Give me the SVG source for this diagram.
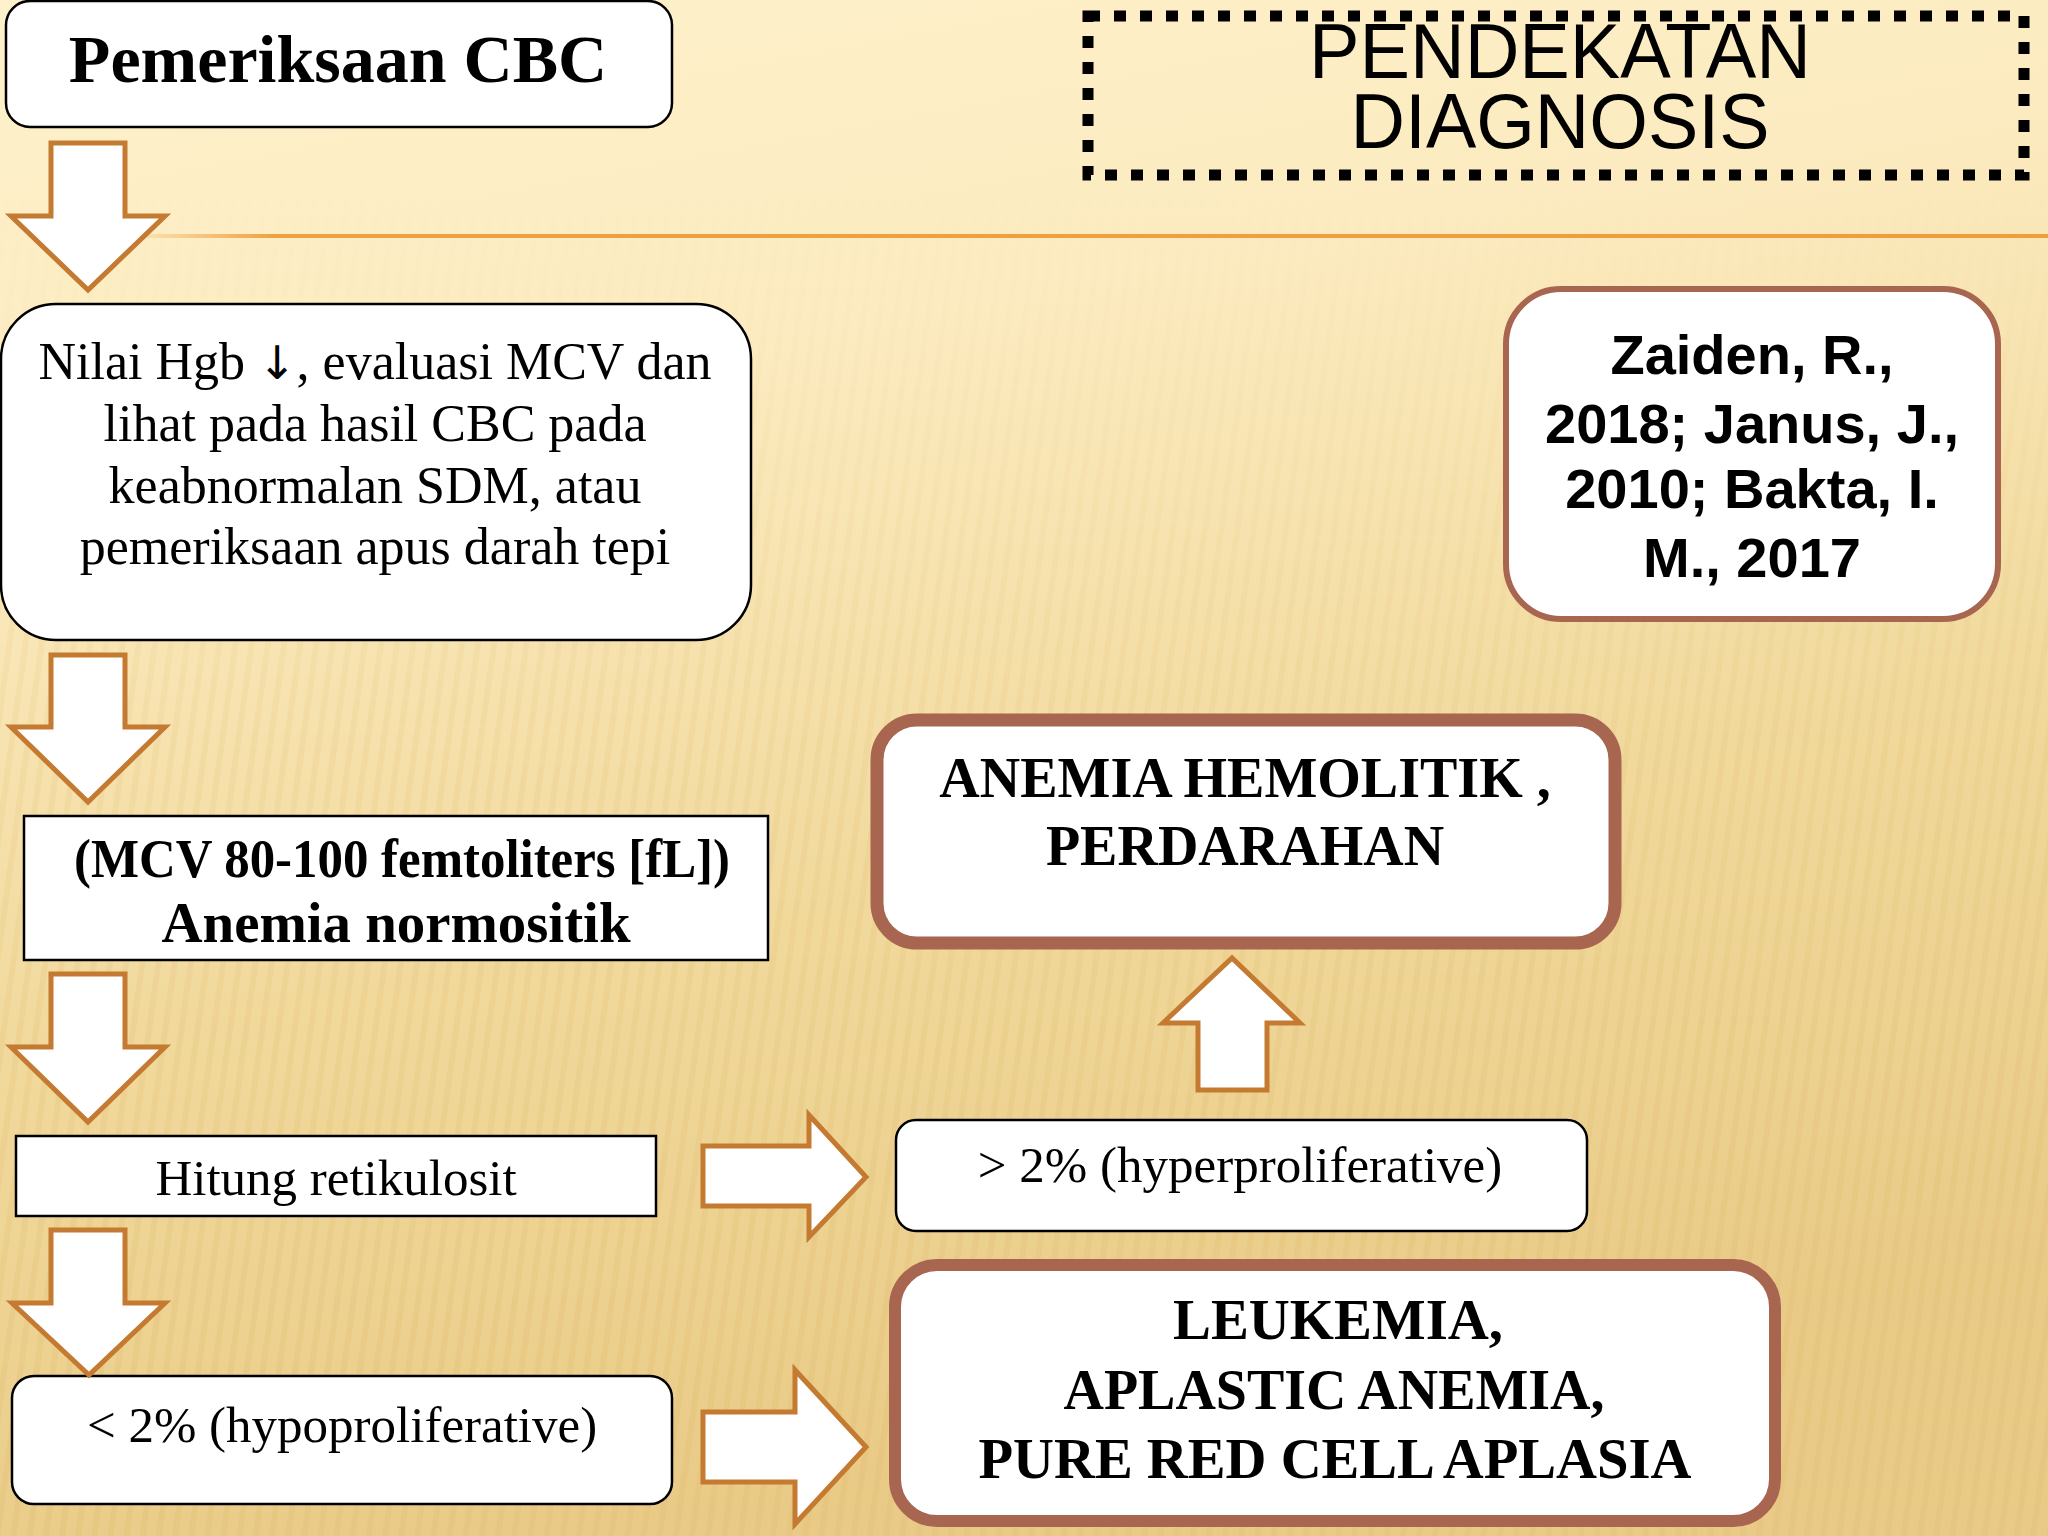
<svg xmlns="http://www.w3.org/2000/svg" width="2048" height="1536" viewBox="0 0 2048 1536">
<defs>
<linearGradient id="bg" x1="0" y1="0" x2="0.25" y2="1">
<stop offset="0" stop-color="#FEF1CB"/>
<stop offset="0.3" stop-color="#FCEBC0"/>
<stop offset="0.65" stop-color="#F1D99C"/>
<stop offset="1" stop-color="#E9CB87"/>
</linearGradient>
<linearGradient id="hl" x1="0" y1="0" x2="1" y2="0">
<stop offset="0" stop-color="#F0A040" stop-opacity="0"/>
<stop offset="0.08" stop-color="#F0A040" stop-opacity="1"/>
<stop offset="1" stop-color="#EE9E3A"/>
</linearGradient>
<pattern id="stripes" width="16" height="40" patternUnits="userSpaceOnUse" patternTransform="rotate(8)">
<rect x="0" y="0" width="6" height="40" fill="#D9B060"/>
</pattern>
<linearGradient id="fade" x1="0" y1="0" x2="0" y2="1">
<stop offset="0.12" stop-color="#fff" stop-opacity="0"/>
<stop offset="0.5" stop-color="#fff" stop-opacity="0.6"/>
<stop offset="1" stop-color="#fff" stop-opacity="0.8"/>
</linearGradient>
<mask id="m">
<rect x="0" y="0" width="2048" height="1536" fill="url(#fade)"/>
</mask>
</defs>
<style>
.box{fill:#fff;stroke:#000;stroke-width:2.5}
.thick{fill:#fff;stroke:#A8654F}
.arr{fill:#fff;stroke:#C47A30;stroke-width:5;stroke-linejoin:miter}
.serif{font-family:"Liberation Serif","Times New Roman",serif;fill:#000}
.sans{font-family:"Liberation Sans",Arial,sans-serif;fill:#000}
.b{font-weight:bold}
.c{text-anchor:middle}
</style>
<rect x="0" y="0" width="2048" height="1536" fill="url(#bg)"/>
<rect x="0" y="0" width="2048" height="1536" fill="url(#stripes)" opacity="0.22" mask="url(#m)"/>
<rect x="120" y="234" width="1928" height="4" fill="url(#hl)"/>

<g id="title">
<rect x="1088" y="16" width="936" height="159" fill="none" stroke="#000" stroke-width="11" stroke-dasharray="12 14"/>
<text class="sans c" x="1560" y="78" font-size="77" textLength="502" lengthAdjust="spacingAndGlyphs">PENDEKATAN</text>
<text class="sans c" x="1560" y="148" font-size="77" textLength="419" lengthAdjust="spacingAndGlyphs">DIAGNOSIS</text>
</g>

<g id="node-cbc">
<rect class="box" x="6" y="1" width="666" height="126" rx="24"/>
<text class="serif b c" x="338" y="82" font-size="68">Pemeriksaan CBC</text>
</g>

<g id="node-hgb">
<rect class="box" x="1" y="304" width="750" height="336" rx="55"/>
<text class="serif c" x="375" y="379" font-size="52">Nilai Hgb <tspan font-family="DejaVu Sans" font-size="46">↓</tspan>, evaluasi MCV dan</text>
<text class="serif c" x="375" y="441" font-size="52">lihat pada hasil CBC pada</text>
<text class="serif c" x="375" y="503" font-size="52">keabnormalan SDM, atau</text>
<text class="serif c" x="375" y="564" font-size="52">pemeriksaan apus darah tepi</text>
</g>

<g id="node-mcv">
<rect class="box" x="24" y="816" width="744" height="144"/>
<text class="serif b c" x="402" y="877" font-size="54" textLength="656" lengthAdjust="spacingAndGlyphs">(MCV 80-100 femtoliters [fL])</text>
<text class="serif b c" x="396" y="942" font-size="56" textLength="469" lengthAdjust="spacingAndGlyphs">Anemia normositik</text>
</g>

<g id="node-retik">
<rect class="box" x="16" y="1136" width="640" height="80"/>
<text class="serif c" x="336" y="1195" font-size="51">Hitung retikulosit</text>
</g>

<g id="node-hypo">
<rect class="box" x="12" y="1376" width="660" height="128" rx="22"/>
<text class="serif c" x="342" y="1442" font-size="51">&lt; 2% (hypoproliferative)</text>
</g>

<g id="node-hyper">
<rect class="box" x="896" y="1120" width="691" height="111" rx="20"/>
<text class="serif c" x="1240" y="1182" font-size="51">&gt; 2% (hyperproliferative)</text>
</g>

<g id="node-hemolitik">
<rect class="thick" x="877" y="720" width="738" height="223" rx="40" stroke-width="13"/>
<text class="serif b c" x="1245" y="797" font-size="56">ANEMIA HEMOLITIK ,</text>
<text class="serif b c" x="1245" y="865" font-size="56">PERDARAHAN</text>
</g>

<g id="node-leukemia">
<rect class="thick" x="895" y="1265" width="880" height="256" rx="42" stroke-width="12"/>
<text class="serif b c" x="1338" y="1339" font-size="57" textLength="330" lengthAdjust="spacingAndGlyphs">LEUKEMIA,</text>
<text class="serif b c" x="1334" y="1409" font-size="57" textLength="541" lengthAdjust="spacingAndGlyphs">APLASTIC ANEMIA,</text>
<text class="serif b c" x="1335" y="1478" font-size="57" textLength="713" lengthAdjust="spacingAndGlyphs">PURE RED CELL APLASIA</text>
</g>

<g id="node-citation">
<rect class="thick" x="1506" y="289" width="492" height="330" rx="55" stroke-width="6"/>
<text class="sans b c" x="1752" y="374" font-size="56">Zaiden, R.,</text>
<text class="sans b c" x="1752" y="443" font-size="56">2018; Janus, J.,</text>
<text class="sans b c" x="1752" y="508" font-size="56">2010; Bakta, I.</text>
<text class="sans b c" x="1752" y="577" font-size="56">M., 2017</text>
</g>

<g id="connectors">
<path class="arr" d="M51,143 H125 V216 H165 L88,290 L11,216 H51 Z"/>
<path class="arr" d="M51,655 H125 V727 H165 L88,802 L11,727 H51 Z"/>
<path class="arr" d="M51,974 H125 V1047 H165 L88,1122 L11,1047 H51 Z"/>
<path class="arr" d="M51,1230 H125 V1303 H165 L89,1375 L12,1303 H51 Z"/>
<path class="arr" d="M703,1146 H809 V1115 L866,1177 L809,1237 V1206 H703 Z"/>
<path class="arr" d="M703,1412 H795 V1370 L866,1447 L795,1524 V1482 H703 Z"/>
<path class="arr" d="M1198,1090 V1023 H1163 L1232,958 L1300,1023 H1267 V1090 Z"/>
</g>
</svg>
